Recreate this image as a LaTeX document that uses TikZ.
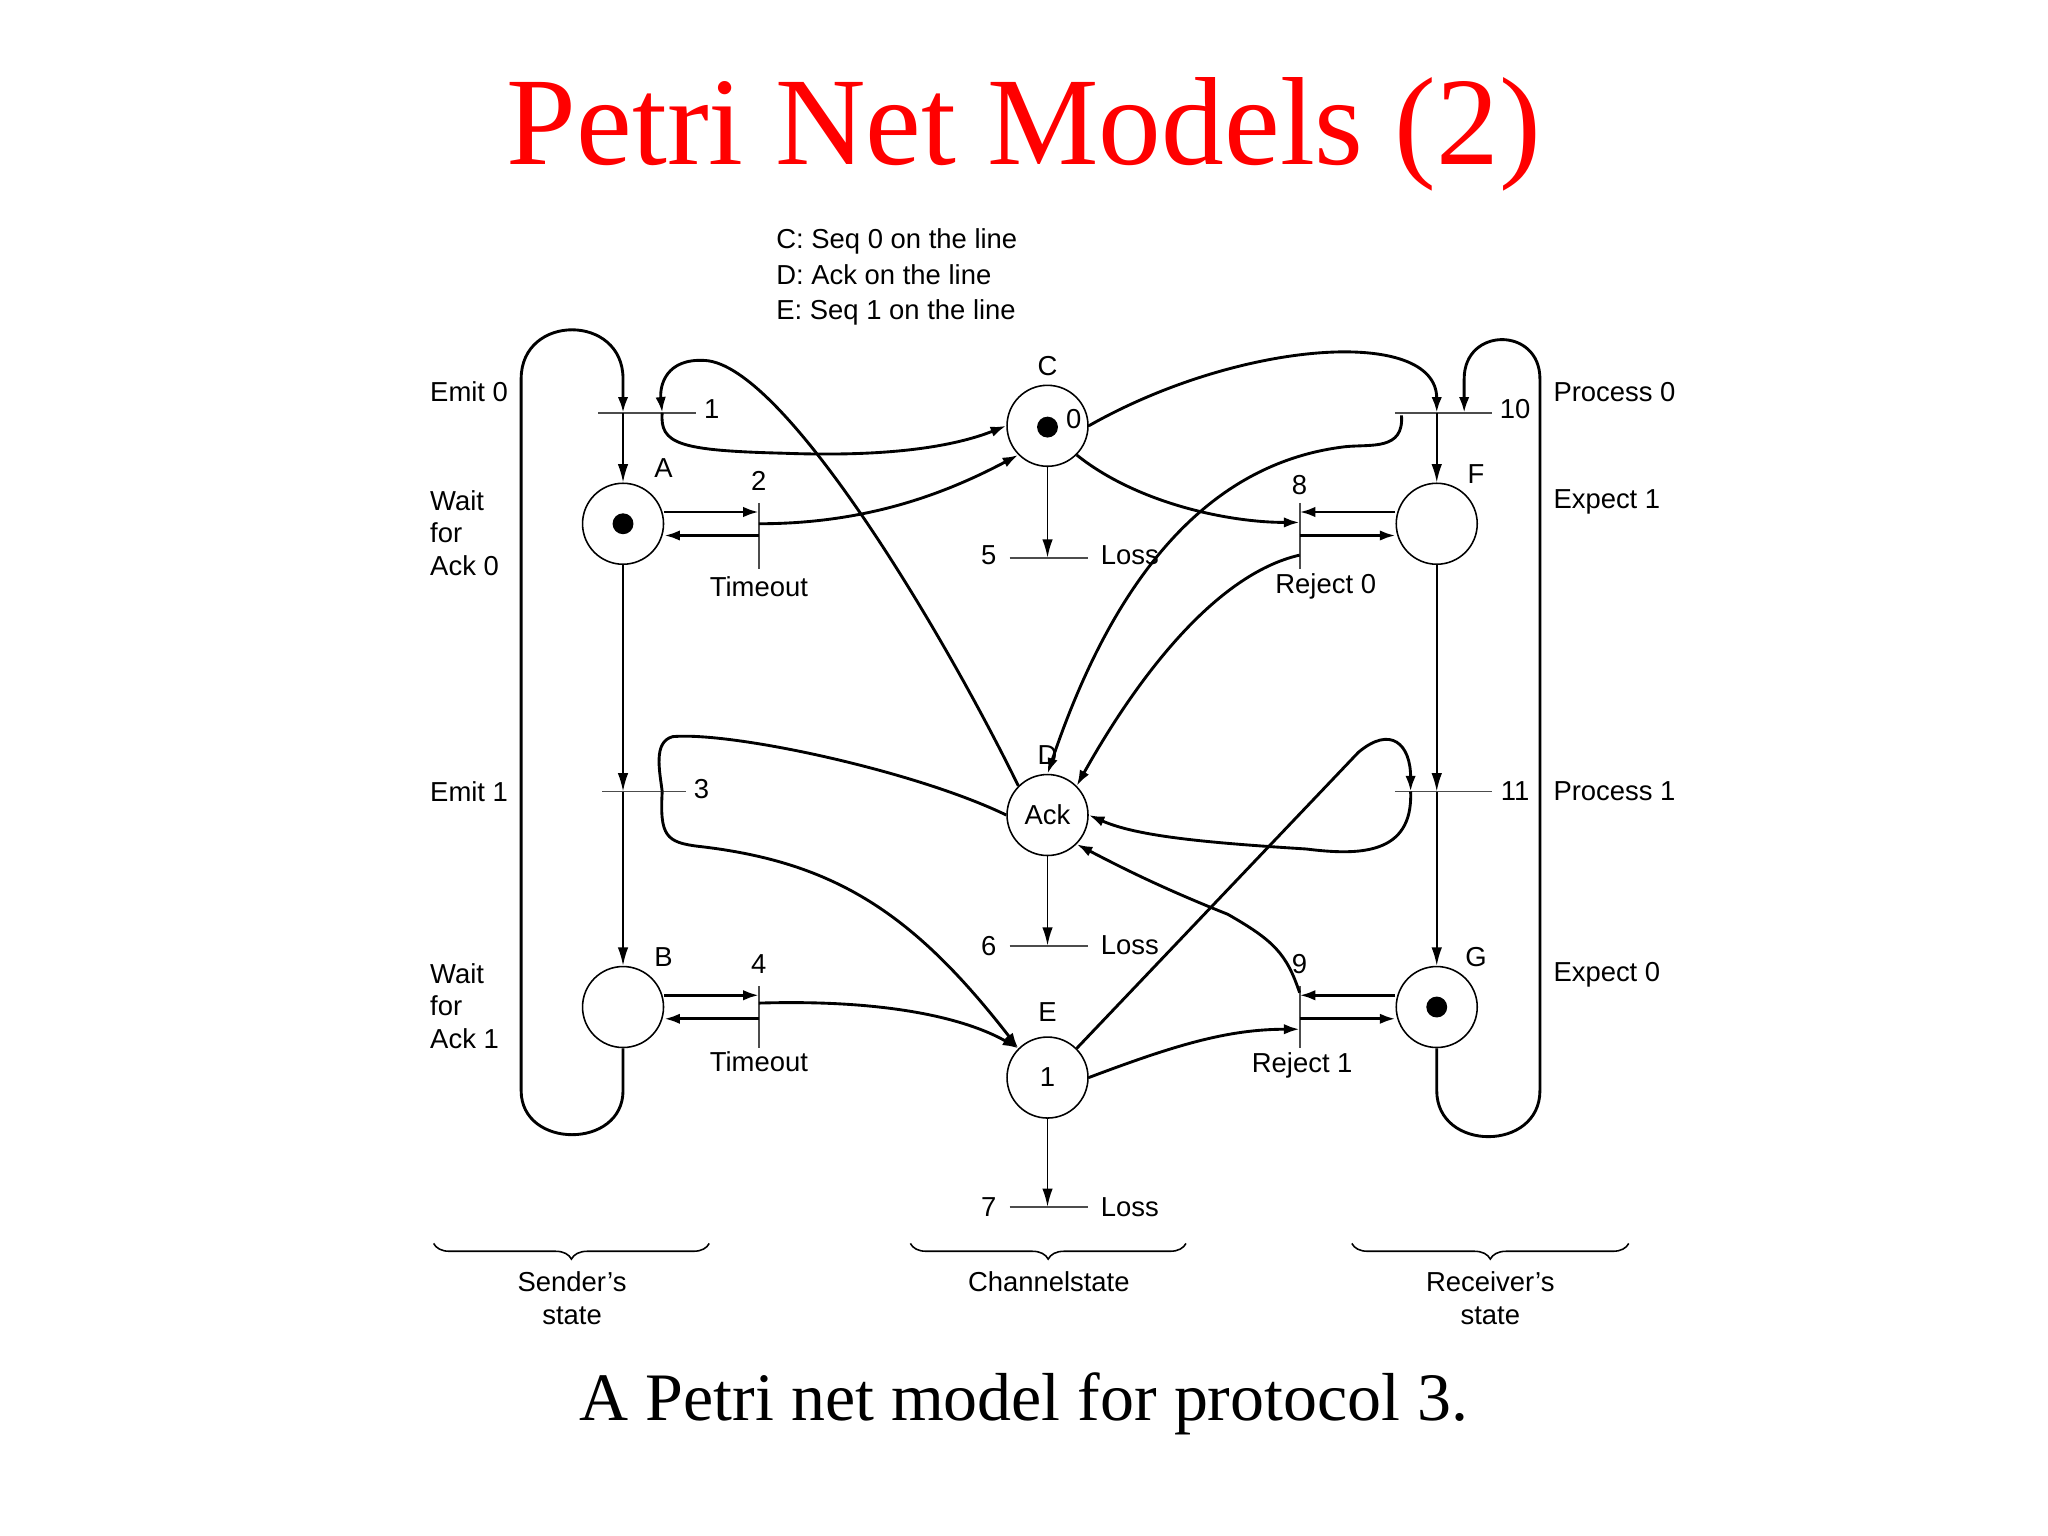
\documentclass[tikz,border=0pt]{standalone}
\usepackage{fontspec}
\setmainfont{Liberation Serif}
\setsansfont{Liberation Sans}
\usetikzlibrary{arrows.meta,decorations.pathreplacing}
\begin{document}
\begin{tikzpicture}[x=0.5pt,y=-0.5pt,
  pl/.style={circle,draw,line width=0.6pt,minimum size=31pt,inner sep=0pt,font=\sffamily\fontsize{10.5}{12}\selectfont},
  tk/.style={circle,fill,inner sep=0pt,minimum size=8pt},
  lb/.style={font=\sffamily\fontsize{10.5}{12.5}\selectfont,inner sep=1pt},
  bar/.style={line width=0.7pt,draw=black!70},
  ar/.style={line width=1.1pt,-{Latex[length=6pt,width=4pt]}},
  ln/.style={line width=1.1pt},
  thin/.style={line width=0.7pt,-{Latex[length=7pt,width=4pt]}}]
\useasboundingbox (0,0) rectangle (1568,1176);
\node[text=red,font=\fontsize{48}{54}\selectfont] (title) at (784,103) {Petri Net Models (2)};
\node[font=\fontsize{26}{30}\selectfont] (cap) at (784,1075) {A Petri net model for protocol 3.};
\node[lb,align=left,anchor=north west] (hdr) at (592,173) {C: Seq 0 on the line\\[1pt]D: Ack on the line\\[1pt]E: Seq 1 on the line};
% places
\node[pl] (A) at (477,401) {}; \node[tk] at (A) {};
\node[pl] (B) at (477,771) {};
\node[pl] (C) at (802,326) {}; \node[tk] at (802,327) {};
\node[pl] (D) at (802,624) {Ack};
\node[pl] (E) at (802,825) {1};
\node[pl] (F) at (1100,401) {};
\node[pl] (G) at (1100,771) {}; \node[tk] at (G) {};
\node[lb] at (822,321) {0};
\node[lb] at (508,358) {A}; \node[lb] at (508,733) {B};
\node[lb] at (802,280) {C}; \node[lb] at (802,578) {D};
\node[lb] at (802,775) {E}; \node[lb] at (1130,363) {F}; \node[lb] at (1130,733) {G};
% transitions
\coordinate (t1l) at (458,316); \coordinate (t1r) at (533,316); \draw[bar] (t1l)--(t1r);
\coordinate (t3l) at (461,606); \coordinate (t3r) at (525,606); \draw[bar] (t3l)--(t3r);
\coordinate (t10l) at (1068,316); \coordinate (t10r) at (1142,316); \draw[bar] (t10l)--(t10r);
\coordinate (t11l) at (1068,606); \coordinate (t11r) at (1142,606); \draw[bar] (t11l)--(t11r);
\coordinate (t5l) at (773,427); \coordinate (t5r) at (833,427); \draw[bar] (t5l)--(t5r);
\coordinate (t6l) at (773,724); \coordinate (t6r) at (833,724); \draw[bar] (t6l)--(t6r);
\coordinate (t7l) at (773,924); \coordinate (t7r) at (833,924); \draw[bar] (t7l)--(t7r);
\coordinate (t2t) at (581,385); \coordinate (t2b) at (581,436); \draw[bar] (t2t)--(t2b);
\coordinate (t4t) at (581,755); \coordinate (t4b) at (581,802); \draw[bar] (t4t)--(t4b);
\coordinate (t8t) at (995,385); \coordinate (t8b) at (995,436); \draw[bar] (t8t)--(t8b);
\coordinate (t9t) at (995,755); \coordinate (t9b) at (995,802); \draw[bar] (t9t)--(t9b);
\node[lb] at (545,313) {1}; \node[lb] at (581,368) {2}; \node[lb] at (537,604) {3}; \node[lb] at (581,738) {4};
\node[lb] at (757,425) {5}; \node[lb] at (757,724) {6}; \node[lb] at (757,924) {7};
\node[lb] at (995,371) {8}; \node[lb] at (995,738) {9}; \node[lb] at (1160,313) {10}; \node[lb] at (1160,606) {11};
\node[lb] at (865,425) {Loss}; \node[lb] at (865,724) {Loss}; \node[lb] at (865,924) {Loss};
\node[lb] at (581,449) {Timeout}; \node[lb] at (581,813) {Timeout};
\node[lb] at (1015,449) {Reject 0}; \node[lb] at (997,816) {Reject 1};
\node[lb,anchor=west] at (327,300) {Emit 0};
\node[lb,anchor=north west,align=left] at (327,373) {Wait\\for\\Ack 0};
\node[lb,anchor=west] at (327,606) {Emit 1};
\node[lb,anchor=north west,align=left] at (327,735) {Wait\\for\\Ack 1};
\node[lb,anchor=west] at (1187,300) {Process 0};
\node[lb,anchor=west] at (1187,384) {Expect 1};
\node[lb,anchor=west] at (1187,606) {Process 1};
\node[lb,anchor=west] at (1187,746) {Expect 0};
% left loop
\draw[ar] (B.south) -- (477,835) .. controls (477,880) and (399,880) .. (399,835) -- (399,290) .. controls (399,240) and (477,240) .. (477,290) -- (477,316);
\draw[thin] (477,316) -- (A.north);
\draw[thin] (A.south) -- (477,606);
\draw[thin] (477,606) -- (B.north);
% right loop
\draw[ar] (G.south) -- (1100,835) .. controls (1100,882) and (1179,882) .. (1179,835) -- (1179,290) .. controls (1179,250) and (1121,250) .. (1121,290) -- (1121,316);
\draw[thin] (1100,316) -- (F.north);
\draw[thin] (F.south) -- (1100,606);
\draw[thin] (1100,606) -- (G.north);
% channel
\draw[thin] (C.south) -- (802,427);
\draw[thin] (D.south) -- (802,724);
\draw[thin] (E.south) -- (802,924);
% sender side
\draw[ar] (A.east |- 0,392) -- (581,392);
\draw[ar] (581,410) -- (A.east |- 0,410);
\draw[ar] (581,401) .. controls (660,401) and (720,380) .. (C.south west);
\draw[ar] (507,316) .. controls (505,340) and (520,345) .. (600,347) .. controls (680,350) and (730,342) .. (C.west);
\draw[ar] (D.north west) .. controls (720,480) and (600,280) .. (540,276) .. controls (510,274) and (505,295) .. (507,316);
\draw[ar] (B.east |- 0,762) -- (581,762);
\draw[ar] (581,780) -- (B.east |- 0,780);
\draw[ar] (581,768) .. controls (680,765) and (740,780) .. (E.north west);
\draw[ln] (D.west) .. controls (700,590) and (560,560) .. (515,564) .. controls (500,568) and (505,590) .. (507,606);
\draw[ar] (507,606) .. controls (505,640) and (510,645) .. (535,648) .. controls (640,660) and (700,700) .. (E.north west);
% receiver side
\draw[ar] (C.east) .. controls (950,260) and (1100,250) .. (1100,316);
\draw[ar] (1073,318) .. controls (1075,345) and (1050,340) .. (1030,342) .. controls (920,355) and (850,450) .. (D.north);
\draw[ar] (C.south east) .. controls (870,385) and (940,400) .. (995,400);
\draw[ar] (F.west |- 0,392) -- (995,392);
\draw[ar] (995,410) -- (F.west |- 0,410);
\draw[ar] (995,425) .. controls (930,440) and (870,520) .. (D.north east);
\draw[ar] (E.north east) -- (1040,576) .. controls (1065,555) and (1080,570) .. (1080,606);
\draw[ar] (1080,606) .. controls (1082,655) and (1040,655) .. (1000,650) .. controls (920,645) and (870,640) .. (D.east);
\draw[ar] (G.west |- 0,762) -- (995,762);
\draw[ar] (995,780) -- (G.west |- 0,780);
\draw[ar] (E.east) .. controls (900,800) and (940,788) .. (995,788);
\draw[ar] (995,760) .. controls (985,730) and (975,720) .. (940,700) .. controls (890,680) and (860,665) .. (D.south east);
% braces
\draw[decorate,decoration={brace,mirror,amplitude=6pt},line width=0.6pt] (332,952) -- (543,952);
\draw[decorate,decoration={brace,mirror,amplitude=6pt},line width=0.6pt] (697,952) -- (908,952);
\draw[decorate,decoration={brace,mirror,amplitude=6pt},line width=0.6pt] (1035,952) -- (1247,952);
\node[lb,align=center] at (438,994) {Sender's\\state};
\node[lb] at (803,981) {Channelstate};
\node[lb,align=center] at (1141,994) {Receiver's\\state};
\end{tikzpicture}
\end{document}
